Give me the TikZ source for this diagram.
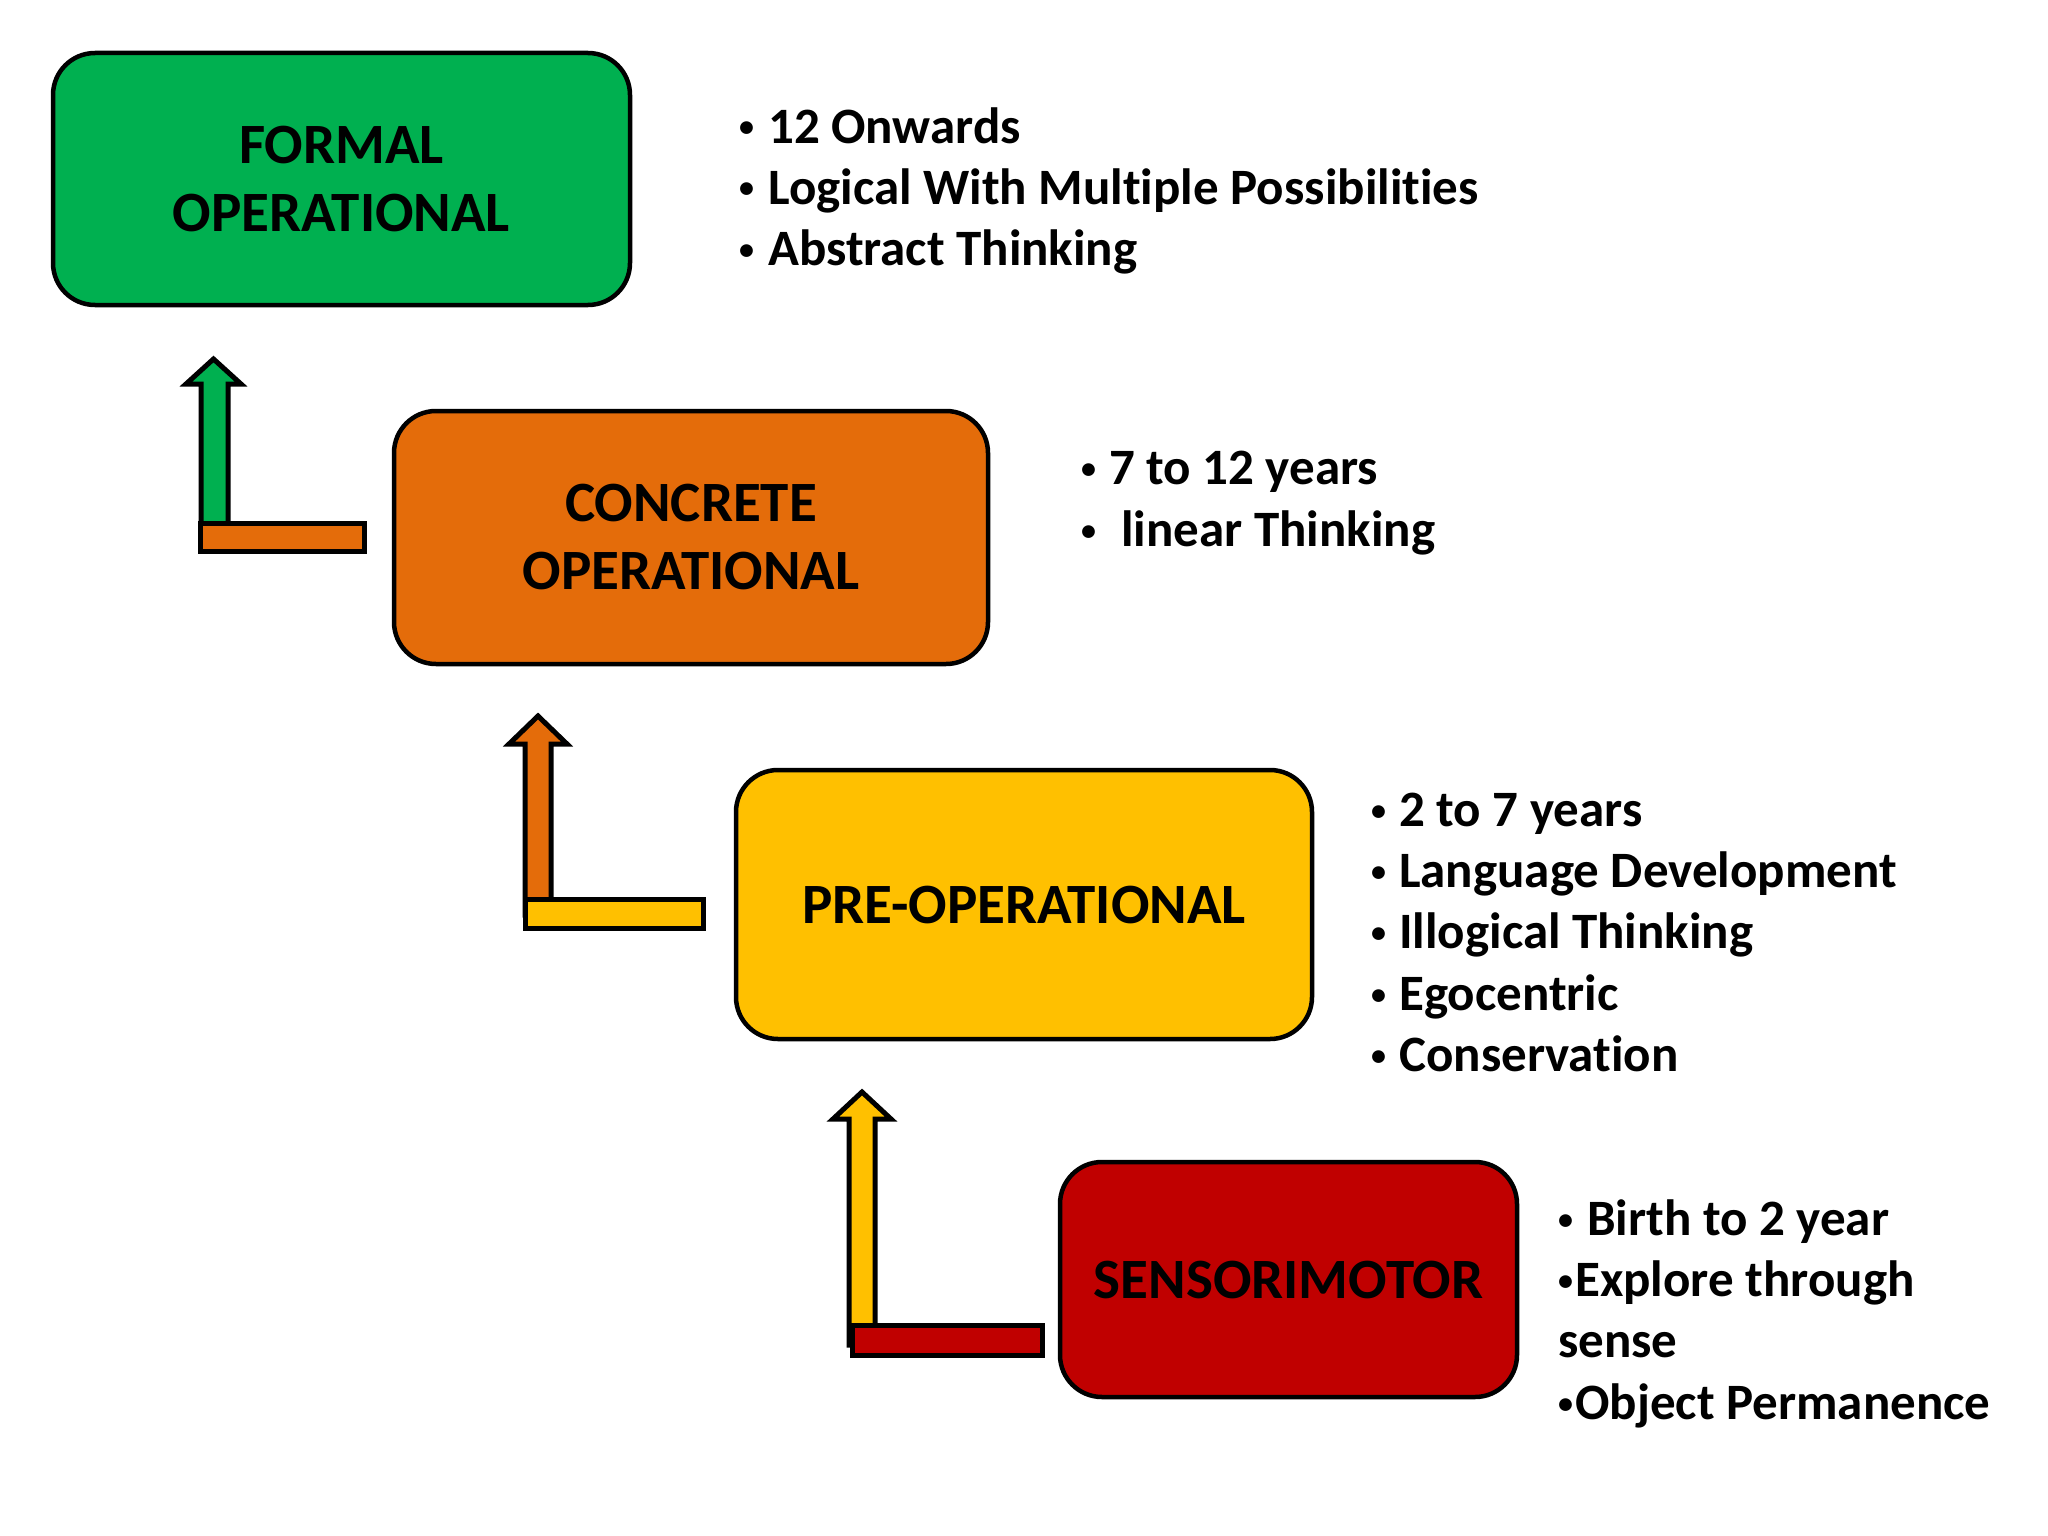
\documentclass[tikz,border=0pt]{standalone}
\usepackage{fontspec}
\setmainfont{Carlito}[Ligatures={NoCommon}]
\definecolor{cgreen}{HTML}{00B050}
\definecolor{corange}{HTML}{E46C0A}
\definecolor{cyellow}{HTML}{FFC000}
\definecolor{cred}{HTML}{C00000}
\newcommand\smallbul{{\fontsize{30}{30}\selectfont\raisebox{6pt}{•}}}
\begin{document}
\begin{tikzpicture}[x=1pt,y=-1pt,
  stagebox/.style={draw=black,line width=4.5pt,rounded corners=42pt,align=center,
    inner sep=0pt,font=\fontsize{57}{68}\selectfont\bfseries},
  listline/.style={anchor=base west,inner sep=0pt,font=\fontsize{51}{61}\selectfont\bfseries},
  arrowshape/.style={draw=black,line width=5pt,line join=miter},
  barshape/.style={draw=black,line width=5pt}]
\useasboundingbox[fill=white] (0,0) rectangle (2048,1536);
% boxes
\node[stagebox,fill=cgreen,minimum width=577pt,minimum height=252pt] (formal) at (341.5,179) {FORMAL\\OPERATIONAL};
\node[stagebox,fill=corange,minimum width=594pt,minimum height=253pt] (concrete) at (691,537.5) {CONCRETE\\OPERATIONAL};
\node[stagebox,fill=cyellow,minimum width=576pt,minimum height=269pt] (preop) at (1024,904.5) {PRE-OPERATIONAL};
\node[stagebox,fill=cred,minimum width=457pt,minimum height=235pt] (sensori) at (1288.5,1279.5) {SENSORIMOTOR};
% arrows
\draw[arrowshape,fill=cgreen] (201,535) -- (201,384) -- (186,384) -- (213.5,359) -- (241,384) -- (228,384) -- (228,535) -- cycle;
\draw[barshape,fill=corange] (200,523) rectangle (364,551);
\draw[arrowshape,fill=corange] (525,915) -- (525,744) -- (509,744) -- (538,716) -- (567,744) -- (551,744) -- (551,915) -- cycle;
\draw[barshape,fill=cyellow] (525,899) rectangle (703,928);
\draw[arrowshape,fill=cyellow] (849,1345) -- (849,1119) -- (833,1119) -- (862,1092) -- (891,1119) -- (875,1119) -- (875,1345) -- cycle;
\draw[barshape,fill=cred] (852,1325) rectangle (1042,1355);
% formal list
\node[listline] (f1) at (739,143) {\makebox[29pt][l]{\smallbul}12 Onwards};
\node[listline] (f2) at (739,204) {\makebox[29pt][l]{\smallbul}Logical With Multiple Possibilities};
\node[listline] (f3) at (739,265) {\makebox[29pt][l]{\smallbul}Abstract Thinking};
% concrete list
\node[listline] (c1) at (1081,484) {\makebox[28pt][l]{\smallbul}7 to 12 years};
\node[listline] (c2) at (1081,546) {\makebox[40pt][l]{\smallbul}linear Thinking};
% preop list
\node[listline] (p1) at (1371,826) {\makebox[28pt][l]{\smallbul}2 to 7 years};
\node[listline] (p2) at (1371,887) {\makebox[28pt][l]{\smallbul}Language Development};
\node[listline] (p3) at (1371,948) {\makebox[28pt][l]{\smallbul}Illogical Thinking};
\node[listline] (p4) at (1371,1010) {\makebox[28pt][l]{\smallbul}Egocentric};
\node[listline] (p5) at (1371,1071) {\makebox[28pt][l]{\smallbul}Conservation};
% sensorimotor list
\node[listline] (s1) at (1558,1235) {\makebox[29pt][l]{\smallbul}Birth to 2 year};
\node[listline] (s2) at (1558,1296) {\makebox[17pt][l]{\smallbul}Explore through};
\node[listline] (s3) at (1558,1357) {sense};
\node[listline] (s4) at (1558,1419) {\makebox[17pt][l]{\smallbul}Object Permanence};
\end{tikzpicture}
\end{document}
